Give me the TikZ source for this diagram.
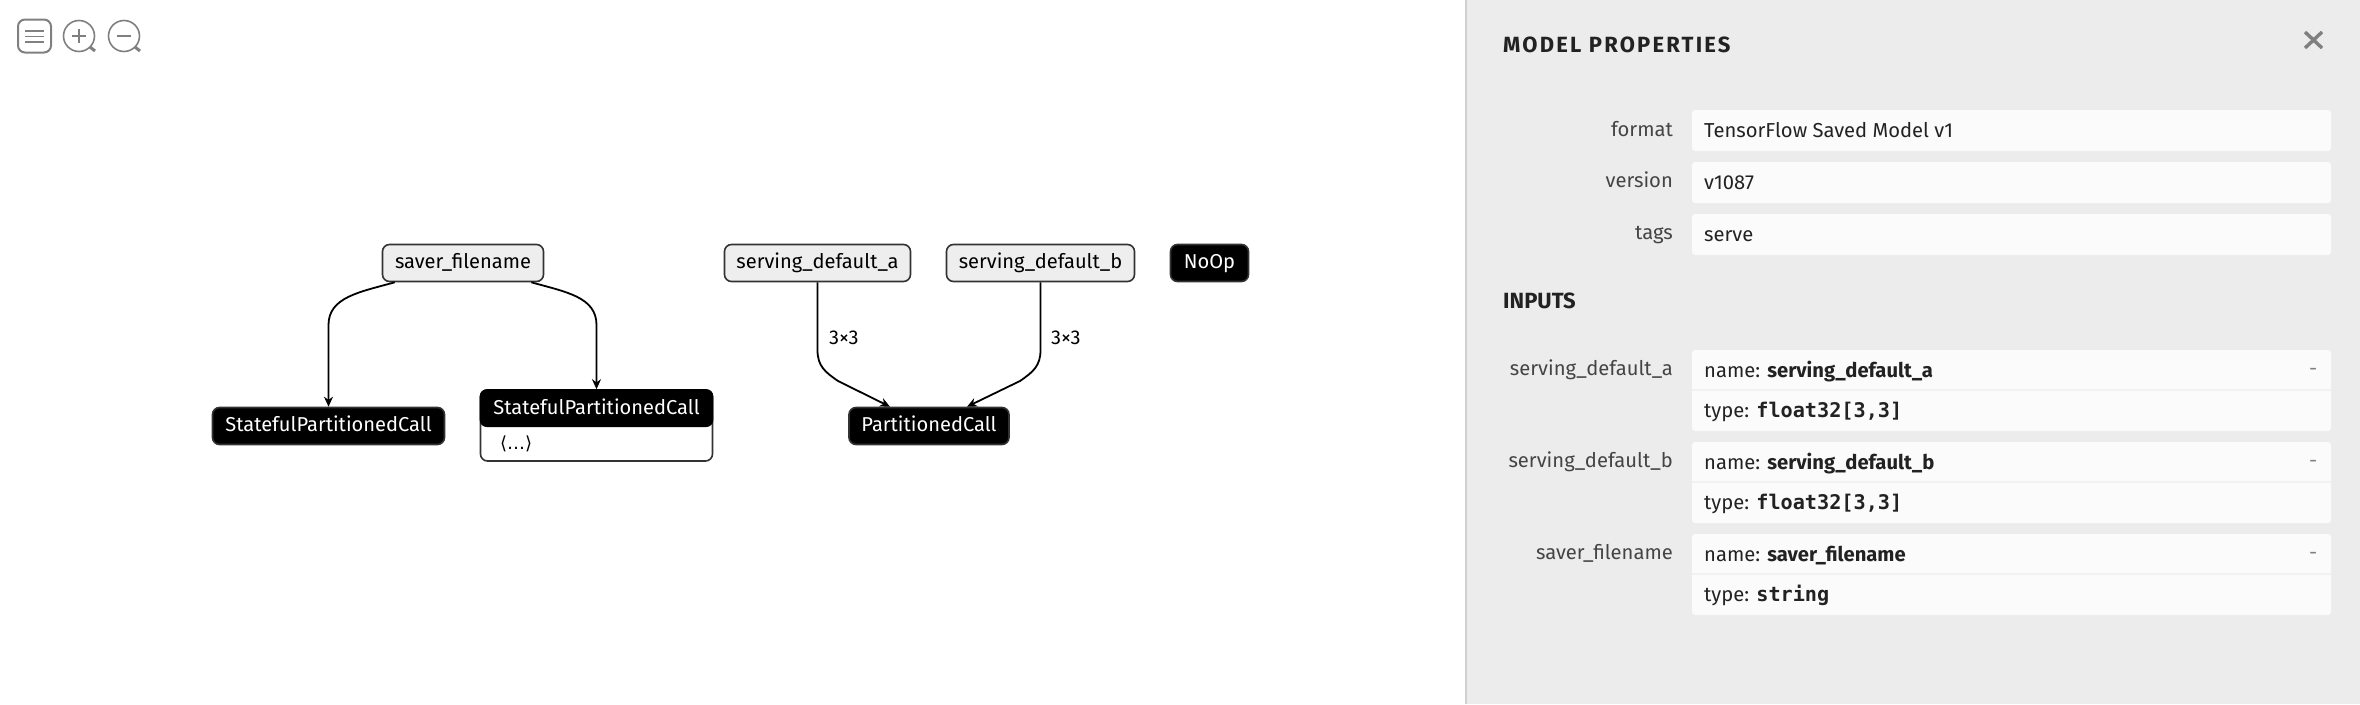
\documentclass[tikz,border=0pt]{standalone}
\usepackage{fontspec}
\setmainfont{Fira Sans}
\newfontfamily\codefont{DejaVu Sans Mono}
\newfontfamily\symbfont{DejaVu Sans}
\newfontfamily\titlefont[LetterSpace=10]{Fira Sans}
\usetikzlibrary{arrows.meta}
\definecolor{paneback}{HTML}{ECECEC}
\definecolor{paneline}{HTML}{D0D0D0}
\definecolor{boxback}{HTML}{FBFBFB}
\definecolor{boxline}{HTML}{F1F1F1}
\definecolor{nodeline}{HTML}{333333}
\definecolor{nodeback}{HTML}{EEEEEE}
\definecolor{textdark}{HTML}{222222}
\definecolor{labeltext}{HTML}{444444}
\definecolor{icongray}{HTML}{808080}
\newcommand{\nodesize}{\fontsize{20.1}{24}\selectfont}
\newcommand{\panelsize}{\fontsize{20.2}{24}\selectfont}
\tikzset{
  graphnode/.style={rectangle,rounded corners=7pt,line width=1.6pt,draw=nodeline,
    inner sep=0pt,minimum height=37pt,text height=14.5pt,text depth=3.5pt,font=\nodesize},
  inputnode/.style={graphnode,fill=nodeback,text=black},
  opnode/.style={graphnode,fill=black,text=white},
  edge/.style={draw=black,line width=1.8pt,-{Stealth[length=10pt,width=9pt]}},
  shapelabel/.style={anchor=base west,inner sep=0pt,font=\fontsize{20}{24}\selectfont,text=black},
  propname/.style={anchor=base east,inner sep=0pt,font=\panelsize,text=labeltext},
  propvalue/.style={anchor=base west,inner sep=0pt,font=\panelsize,text=textdark},
  proptitle/.style={anchor=base west,inner sep=0pt,font=\titlefont\fontsize{22}{26}\selectfont\bfseries,text=textdark},
  sectiontitle/.style={anchor=base west,inner sep=0pt,font=\fontsize{22}{26}\selectfont\bfseries,text=textdark},
  valuebox/.style={fill=boxback,rounded corners=3pt},
  divider/.style={draw=boxline,line width=2pt},
  iconline/.style={draw=icongray,line width=1.6pt},
}
\begin{document}
\begin{tikzpicture}[x=1pt,y=-1pt]
  \useasboundingbox (0,0) rectangle (2360,704);
  \fill[white] (0,0) rectangle (2360,704);

  % toolbar
  \draw[iconline,line width=2pt,rounded corners=7pt] (18,19.5) rectangle (51,52.5);
  \draw[iconline] (25,31) -- (44,31) (25,36.5) -- (44,36.5) (25,42) -- (44,42);
  \draw[iconline] (79,36) circle (15.5);
  \draw[iconline] (72,36) -- (86,36) (79,29) -- (79,43);
  \draw[iconline,line width=3pt] (90,47) -- (95,51);
  \draw[iconline] (124,36) circle (15.5);
  \draw[iconline] (117,36) -- (131,36);
  \draw[iconline,line width=3pt] (135,47) -- (140,51);

  % graph nodes
  \node[inputnode,minimum width=161pt] (saver) at (463,263) {saver\_filename};
  \node[inputnode,minimum width=186pt] (input_a) at (817.5,263) {serving\_default\_a};
  \node[inputnode,minimum width=188pt] (input_b) at (1040.5,263) {serving\_default\_b};
  \node[opnode,minimum width=78pt] (noop) at (1209.5,263) {NoOp};
  \node[opnode,minimum width=232pt] (call_a) at (328.5,426) {StatefulPartitionedCall};
  \node[opnode,minimum width=160pt] (call_c) at (929,426) {PartitionedCall};

  % node with a white lower part
  \node[graphnode,fill=white,minimum width=232pt,minimum height=71pt] (call_b) at (596.5,425.5) {};
  \fill[black,rounded corners=7pt] (call_b.west |- 0,427) -- (call_b.north west) -- (call_b.north east) -- (call_b.east |- 0,427) -- cycle;
  \node[font=\nodesize,text=white,inner sep=0pt,text height=14.5pt,text depth=3.5pt] (call_b_name) at (596.5,409) {StatefulPartitionedCall};
  \node[anchor=west,inner sep=0pt,font=\symbfont\fontsize{18}{22}\selectfont] (call_b_attr) at (500,444) {⟨…⟩};

  % edges
  \draw[edge] ([xshift=13pt]saver.south west) .. controls (360,292) and (328.5,297) .. (328.5,325) -- (call_a.north);
  \draw[edge] ([xshift=-13pt]saver.south east) .. controls (566,292) and (596.5,297) .. (596.5,325) -- (call_b.north);
  \draw[edge] (input_a.south) -- (817.5,350) .. controls (817.5,366) and (825,372) .. (838,381) -- ([xshift=-39pt]call_c.north);
  \draw[edge] (input_b.south) -- (1040.5,350) .. controls (1040.5,366) and (1033,372) .. (1020,381) -- ([xshift=38pt]call_c.north);
  \node[shapelabel] (shape_a) at (829,344.5) {3×3};
  \node[shapelabel] (shape_b) at (1051,344.5) {3×3};

  % side panel
  \fill[paneback] (1466,0) rectangle (2360,704);
  \draw[paneline,line width=1.5pt] (1466,0) -- (1466,704);
  \node[proptitle] (title) at (1503,52) {MODEL PROPERTIES};
  \draw[icongray,line width=3.4pt] (2305,32) -- (2322,48) (2322,32) -- (2305,48);

  \fill[valuebox] (1692,110) rectangle (2331,151);
  \fill[valuebox] (1692,162) rectangle (2331,203);
  \fill[valuebox] (1692,214) rectangle (2331,255);
  \node[propname] (format_name) at (1673,136) {format};
  \node[propname] (version_name) at (1673,187) {version};
  \node[propname] (tags_name) at (1673,239) {tags};
  \node[propvalue] (format_value) at (1704,137) {TensorFlow Saved Model v1};
  \node[propvalue] (version_value) at (1704,189) {v1087};
  \node[propvalue] (tags_value) at (1704,241) {serve};

  \node[sectiontitle] (inputs) at (1503,308) {INPUTS};

  \fill[valuebox] (1692,350) rectangle (2331,431);
  \draw[divider] (1692,390) -- (2331,390);
  \node[propname] (a_name) at (1673,375) {serving\_default\_a};
  \node[propvalue] (a_value) at (1704,377) {name: \textbf{serving\_default\_a}};
  \node[propvalue] (a_type) at (1704,417) {type: {\codefont\bfseries float32[3,3]}};
  \node[propvalue,text=icongray] (a_more) at (2309,375) {-};

  \fill[valuebox] (1692,442) rectangle (2331,523);
  \draw[divider] (1692,482) -- (2331,482);
  \node[propname] (b_name) at (1673,467) {serving\_default\_b};
  \node[propvalue] (b_value) at (1704,469) {name: \textbf{serving\_default\_b}};
  \node[propvalue] (b_type) at (1704,509) {type: {\codefont\bfseries float32[3,3]}};
  \node[propvalue,text=icongray] (b_more) at (2309,467) {-};

  \fill[valuebox] (1692,534) rectangle (2331,615);
  \draw[divider] (1692,574) -- (2331,574);
  \node[propname] (s_name) at (1673,559) {saver\_filename};
  \node[propvalue] (s_value) at (1704,561) {name: \textbf{saver\_filename}};
  \node[propvalue] (s_type) at (1704,601) {type: {\codefont\bfseries string}};
  \node[propvalue,text=icongray] (s_more) at (2309,559) {-};
\end{tikzpicture}
\end{document}
